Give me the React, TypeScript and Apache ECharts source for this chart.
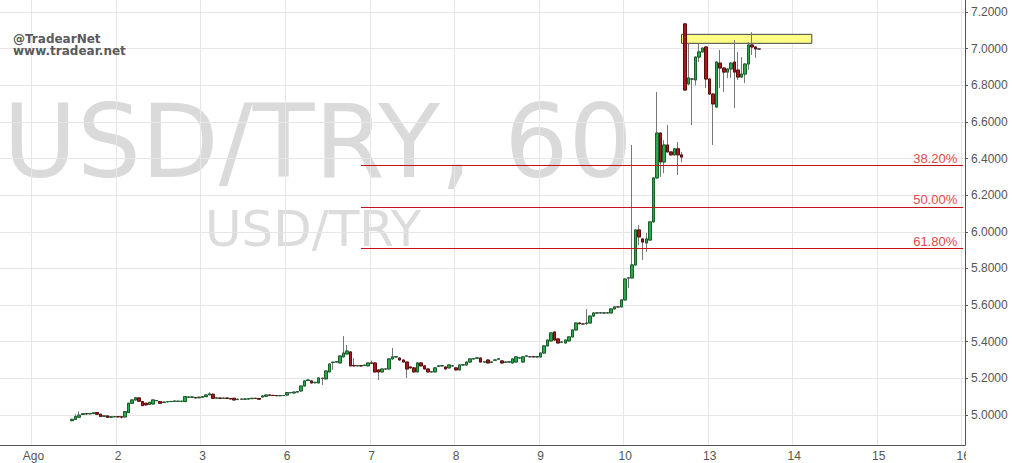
import React, { useEffect, useRef } from 'react';
import * as echarts from 'echarts';

// ---- axis / calendar data ----
const dayLabels = ['Ago', '2', '3', '6', '7', '8', '9', '10', '13', '14', '15', '16'];
const LEAD_SLOTS = 9; // hourly slots shown before Aug 1 00:00
const HOURS_PER_DAY = 24;
const FIRST_CANDLE_SLOT = 20; // Aug 1, 11:00

// ---- hourly candles [open, close, low, high] ----
const aug01 = [
  [4.969, 4.976, 4.965, 4.979], [4.976, 4.991, 4.974, 5.004], [4.988, 4.999, 4.985, 5.020],
  [5.003, 5.007, 5.000, 5.010], [5.007, 5.006, 5.002, 5.010], [5.006, 5.008, 5.004, 5.011],
  [5.008, 5.012, 5.004, 5.015], [5.013, 5.004, 5.000, 5.016], [5.004, 4.992, 4.989, 5.006],
  [4.993, 4.995, 4.990, 4.998], [4.995, 4.987, 4.984, 4.997], [4.988, 4.990, 4.986, 4.993],
  [4.990, 4.991, 4.987, 4.994],
];
const aug02 = [
  [4.991, 4.990, 4.987, 4.994], [4.990, 4.988, 4.981, 4.993], [4.989, 5.018, 4.987, 5.021],
  [5.013, 5.064, 5.011, 5.067], [5.064, 5.082, 5.060, 5.086], [5.082, 5.094, 5.078, 5.098],
  [5.093, 5.075, 5.072, 5.096], [5.073, 5.051, 5.049, 5.076], [5.064, 5.055, 5.052, 5.066],
  [5.058, 5.069, 5.056, 5.071], [5.060, 5.082, 5.058, 5.084], [5.078, 5.079, 5.075, 5.082],
  [5.073, 5.064, 5.062, 5.075], [5.068, 5.070, 5.066, 5.072], [5.072, 5.073, 5.070, 5.075],
  [5.073, 5.074, 5.071, 5.076], [5.075, 5.076, 5.073, 5.078], [5.074, 5.075, 5.072, 5.077],
  [5.074, 5.075, 5.072, 5.077], [5.073, 5.100, 5.071, 5.102], [5.097, 5.098, 5.094, 5.100],
  [5.097, 5.098, 5.095, 5.100], [5.095, 5.093, 5.091, 5.097], [5.094, 5.097, 5.092, 5.099],
];
const aug03 = [
  [5.097, 5.100, 5.095, 5.102], [5.100, 5.109, 5.098, 5.112], [5.110, 5.115, 5.108, 5.124],
  [5.113, 5.091, 5.089, 5.116], [5.092, 5.093, 5.090, 5.095], [5.092, 5.091, 5.089, 5.094],
  [5.091, 5.092, 5.089, 5.094], [5.092, 5.091, 5.089, 5.093], [5.090, 5.087, 5.085, 5.092],
  [5.091, 5.082, 5.080, 5.093], [5.084, 5.086, 5.082, 5.088], [5.086, 5.086, 5.084, 5.088],
  [5.086, 5.087, 5.084, 5.089], [5.087, 5.089, 5.085, 5.091], [5.089, 5.091, 5.087, 5.093],
  [5.091, 5.090, 5.088, 5.092], [5.090, 5.086, 5.084, 5.092], [5.098, 5.104, 5.096, 5.106],
  [5.102, 5.109, 5.100, 5.111], [5.109, 5.108, 5.106, 5.111], [5.107, 5.106, 5.104, 5.109],
  [5.106, 5.105, 5.103, 5.108], [5.105, 5.106, 5.103, 5.108], [5.106, 5.106, 5.104, 5.109],
];
const aug06 = [
  [5.109, 5.122, 5.107, 5.124], [5.122, 5.122, 5.119, 5.125], [5.120, 5.125, 5.118, 5.127],
  [5.125, 5.128, 5.122, 5.131], [5.131, 5.158, 5.129, 5.160], [5.158, 5.186, 5.156, 5.189],
  [5.188, 5.191, 5.185, 5.194], [5.186, 5.175, 5.172, 5.188], [5.176, 5.178, 5.173, 5.181],
  [5.175, 5.202, 5.173, 5.205], [5.200, 5.200, 5.164, 5.203], [5.197, 5.240, 5.195, 5.243],
  [5.235, 5.278, 5.233, 5.281], [5.286, 5.288, 5.246, 5.291], [5.289, 5.291, 5.286, 5.294],
  [5.284, 5.322, 5.282, 5.325], [5.317, 5.338, 5.315, 5.431], [5.333, 5.349, 5.330, 5.382],
  [5.344, 5.268, 5.265, 5.347], [5.270, 5.268, 5.264, 5.310], [5.268, 5.269, 5.265, 5.272],
  [5.269, 5.268, 5.265, 5.272], [5.270, 5.272, 5.267, 5.275], [5.268, 5.284, 5.266, 5.287],
];
const aug07 = [
  [5.284, 5.283, 5.280, 5.297], [5.284, 5.235, 5.232, 5.287], [5.246, 5.235, 5.191, 5.249],
  [5.235, 5.251, 5.232, 5.254], [5.251, 5.251, 5.248, 5.254], [5.251, 5.306, 5.249, 5.309],
  [5.306, 5.317, 5.303, 5.366], [5.317, 5.318, 5.313, 5.321], [5.311, 5.300, 5.297, 5.314],
  [5.300, 5.289, 5.286, 5.303], [5.289, 5.251, 5.202, 5.292], [5.262, 5.257, 5.254, 5.265],
  [5.257, 5.235, 5.232, 5.260], [5.235, 5.284, 5.232, 5.287], [5.284, 5.268, 5.265, 5.287],
  [5.268, 5.251, 5.248, 5.271], [5.251, 5.235, 5.232, 5.254], [5.235, 5.236, 5.232, 5.239],
  [5.235, 5.257, 5.232, 5.260], [5.266, 5.268, 5.263, 5.271], [5.268, 5.269, 5.265, 5.272],
  [5.262, 5.251, 5.248, 5.265], [5.257, 5.273, 5.254, 5.276], [5.268, 5.268, 5.265, 5.271],
];
const aug08 = [
  [5.257, 5.246, 5.243, 5.260], [5.246, 5.273, 5.243, 5.276], [5.273, 5.274, 5.270, 5.277],
  [5.273, 5.289, 5.270, 5.292], [5.289, 5.306, 5.286, 5.309], [5.306, 5.307, 5.303, 5.310],
  [5.310, 5.311, 5.307, 5.314], [5.311, 5.289, 5.286, 5.314], [5.289, 5.290, 5.286, 5.293],
  [5.300, 5.284, 5.281, 5.303], [5.288, 5.289, 5.285, 5.292], [5.299, 5.300, 5.296, 5.303],
  [5.305, 5.306, 5.302, 5.309], [5.295, 5.284, 5.281, 5.298], [5.288, 5.289, 5.285, 5.292],
  [5.289, 5.290, 5.286, 5.293], [5.284, 5.306, 5.281, 5.309], [5.289, 5.317, 5.286, 5.320],
  [5.311, 5.312, 5.308, 5.315], [5.289, 5.317, 5.286, 5.320], [5.321, 5.322, 5.318, 5.325],
  [5.318, 5.318, 5.315, 5.321], [5.318, 5.317, 5.315, 5.320], [5.317, 5.318, 5.314, 5.321],
];
const aug09 = [
  [5.317, 5.338, 5.314, 5.341], [5.338, 5.377, 5.335, 5.380], [5.377, 5.409, 5.374, 5.412],
  [5.404, 5.448, 5.401, 5.451], [5.453, 5.409, 5.406, 5.456], [5.415, 5.393, 5.390, 5.418],
  [5.397, 5.398, 5.394, 5.401], [5.393, 5.409, 5.390, 5.412], [5.404, 5.426, 5.401, 5.429],
  [5.426, 5.464, 5.423, 5.467], [5.464, 5.502, 5.461, 5.505], [5.502, 5.498, 5.495, 5.505],
  [5.497, 5.497, 5.494, 5.500], [5.500, 5.502, 5.490, 5.579], [5.502, 5.540, 5.499, 5.543],
  [5.540, 5.557, 5.537, 5.560], [5.557, 5.557, 5.554, 5.560], [5.557, 5.558, 5.554, 5.561],
  [5.557, 5.557, 5.554, 5.560], [5.557, 5.558, 5.554, 5.561], [5.557, 5.579, 5.554, 5.582],
  [5.579, 5.590, 5.576, 5.593], [5.590, 5.590, 5.587, 5.593], [5.590, 5.628, 5.587, 5.631],
];
const aug10 = [
  [5.628, 5.742, 5.625, 5.745], [5.748, 5.748, 5.693, 5.752], [5.748, 5.819, 5.745, 6.474],
  [5.819, 6.010, 5.815, 6.014], [6.010, 5.972, 5.928, 6.037], [5.961, 5.944, 5.846, 5.965],
  [5.939, 5.961, 5.890, 5.994], [5.955, 6.054, 5.950, 6.058], [6.054, 6.294, 6.050, 6.298],
  [6.294, 6.539, 6.290, 6.763], [6.539, 6.381, 6.300, 6.543], [6.381, 6.474, 6.320, 6.500],
  [6.474, 6.436, 6.432, 6.583], [6.436, 6.420, 6.416, 6.440], [6.420, 6.453, 6.416, 6.457],
  [6.453, 6.420, 6.310, 6.490], [6.420, 6.408, 6.380, 6.436], [7.135, 6.774, 6.770, 7.135],
  [6.807, 6.840, 6.800, 7.030], [6.834, 6.834, 6.583, 6.838], [6.829, 6.954, 6.800, 6.958],
  [6.954, 6.982, 6.927, 7.030], [6.982, 7.003, 6.978, 7.007], [7.009, 6.834, 6.785, 7.013],
];
const aug13 = [
  [6.834, 6.752, 6.748, 6.838], [6.752, 6.698, 6.474, 6.756], [6.681, 6.927, 6.677, 6.931],
  [6.921, 6.894, 6.785, 6.993], [6.894, 6.872, 6.763, 6.898], [6.872, 6.889, 6.839, 6.893],
  [6.889, 6.921, 6.839, 6.925], [6.927, 6.872, 6.676, 7.047], [6.883, 6.845, 6.829, 6.981],
  [6.845, 6.861, 6.841, 6.954], [6.861, 6.916, 6.812, 6.920], [6.916, 7.020, 6.883, 7.036],
  [7.020, 7.009, 6.965, 7.090], [7.009, 6.998, 6.950, 7.013], [6.998, 6.998, 6.994, 7.002],
];

// ---- Fibonacci retracement levels ----
const fibLabels = ['38.20%', '50.00%', '61.80%'];
const fibValues = [6.3619, 6.1327, 5.9088];
const fibStartSlot = 102;

// ---- resistance zone ----
const zoneBottom = 7.029;
const zoneTop = 7.078;
const zoneStartSlot = 193;
const zoneEndSlot = 230;

// ---- y axis ----
const yMin = 4.836;
const yMax = 7.2655;
const yStep = 0.2;

const TOTAL_SLOTS = LEAD_SLOTS + HOURS_PER_DAY * (dayLabels.length - 1) + 1;

function slotName(i: number): string {
  if (i < LEAD_SLOTS) return 'Jul31 ' + (24 - LEAD_SLOTS + i) + ':00';
  const d = Math.floor((i - LEAD_SLOTS) / HOURS_PER_DAY);
  const h = (i - LEAD_SLOTS) % HOURS_PER_DAY;
  return dayLabels[d] + ' ' + h + ':00';
}
const isDayStart = (i: number) => i >= LEAD_SLOTS && (i - LEAD_SLOTS) % HOURS_PER_DAY === 0;

export default function App() {
  const ref = useRef<HTMLDivElement>(null);
  useEffect(() => {
    if (!ref.current) return;
    const chart = echarts.init(ref.current, undefined, { renderer: 'svg' });
    const categories: string[] = [];
    for (let i = 0; i < TOTAL_SLOTS; i++) categories.push(slotName(i));
    const candles = [...aug01, ...aug02, ...aug03, ...aug06, ...aug07, ...aug08, ...aug09, ...aug10, ...aug13];
    const wickData: any[] = categories.map((_, i) => {
      const c = candles[i - FIRST_CANDLE_SLOT];
      return c ? c : '-';
    });
    const bodyData: any[] = categories.map((_, i) => {
      const c = candles[i - FIRST_CANDLE_SLOT];
      return c ? [c[0], c[1], Math.min(c[0], c[1]), Math.max(c[0], c[1])] : '-';
    });
    const fibSeries = fibValues.map((v, k) => ({
      type: 'line',
      name: fibLabels[k],
      data: [[categories[fibStartSlot], v], [categories[TOTAL_SLOTS - 1], v]],
      symbol: 'none',
      showSymbol: false,
      silent: true,
      z: 5,
      lineStyle: { color: '#c41219', width: 1, type: 'solid' },
      itemStyle: { color: '#c41219' },
      emphasis: { disabled: true },
      endLabel: {
        show: true,
        formatter: fibLabels[k],
        color: '#e3484c',
        fontSize: 13,
        fontFamily: '"Liberation Sans", Arial, sans-serif',
        align: 'right',
        verticalAlign: 'bottom',
        distance: 0,
        offset: [-6, -1],
      },
    }));
    const option: any = {
      animation: false,
      backgroundColor: '#ffffff',
      grid: { left: 0, right: 47, top: 0, bottom: 18, containLabel: false, outerBoundsMode: 'none' },
      xAxis: {
        type: 'category',
        data: categories,
        boundaryGap: true,
        axisLine: { lineStyle: { color: '#555555', width: 1 } },
        axisTick: { interval: (i: number) => isDayStart(i), length: 4, lineStyle: { color: '#555555' } },
        axisLabel: {
          interval: (i: number) => isDayStart(i),
          formatter: (_v: string, i: number) => dayLabels[Math.floor((i - LEAD_SLOTS) / HOURS_PER_DAY)],
          color: '#555555',
          fontSize: 12,
          fontFamily: '"Liberation Sans", Arial, sans-serif',
          margin: 5,
        },
        splitLine: { show: true, interval: (i: number) => isDayStart(i), lineStyle: { color: '#e6e6e6', width: 1 } },
      },
      yAxis: {
        type: 'value',
        position: 'right',
        min: yMin,
        max: yMax,
        splitNumber: 12,
        minInterval: yStep,
        maxInterval: yStep,
        axisLine: { show: true, lineStyle: { color: '#555555', width: 1 } },
        axisTick: { show: true, length: 3, lineStyle: { color: '#555555' } },
        axisLabel: {
          color: '#555555',
          fontSize: 12,
          fontFamily: '"Liberation Sans", Arial, sans-serif',
          margin: 6,
          showMinLabel: false,
          showMaxLabel: false,
          formatter: (v: number) => (Math.abs(v / yStep - Math.round(v / yStep)) < 1e-6 ? v.toFixed(4) : ''),
        },
        splitLine: { show: true, showMinLine: false, showMaxLine: false, lineStyle: { color: '#e6e6e6', width: 1 } },
      },
      series: [
        {
          type: 'candlestick',
          name: 'wick',
          data: wickData,
          barWidth: 3,
          silent: true,
          itemStyle: {
            color: 'rgba(0,0,0,0)', color0: 'rgba(0,0,0,0)',
            borderColor: '#777777', borderColor0: '#777777', borderColorDoji: '#777777', borderWidth: 1,
          },
          markArea: {
            silent: true,
            itemStyle: { color: '#ffff88', borderColor: '#444444', borderWidth: 1 },
            data: [[
              { coord: [categories[zoneStartSlot], zoneTop] },
              { coord: [categories[zoneEndSlot], zoneBottom] },
            ]],
          },
        },
        {
          type: 'candlestick',
          name: 'body',
          data: bodyData,
          barWidth: 3,
          silent: true,
          itemStyle: {
            color: '#2aa84a', color0: '#a8171c',
            borderColor: '#17602a', borderColor0: '#5e0d0d', borderColorDoji: '#444444', borderWidth: 1,
          },
        },
        ...fibSeries,
      ],
      graphic: [
        {
          type: 'text', z: -5, silent: true,
          style: { text: 'USD/TRY, 60', x: 3, y: 142, fill: '#dadada', font: '101px "DejaVu Sans"', align: 'left', verticalAlign: 'middle' },
        },
        {
          type: 'text', z: -5, silent: true,
          style: { text: 'USD/TRY', x: 205, y: 229, fill: '#dcdcdc', font: '50px "DejaVu Sans"', align: 'left', verticalAlign: 'middle' },
        },
        {
          type: 'text', z: 10, silent: true,
          style: { text: '@TradearNet', x: 13, y: 39, fill: '#5a5a5a', font: 'bold 12px "DejaVu Sans"', lineHeight: 11, align: 'left', verticalAlign: 'middle' },
        },
        {
          type: 'text', z: 10, silent: true,
          style: { text: 'www.tradear.net', x: 13, y: 51, fill: '#5a5a5a', font: 'bold 12px "DejaVu Sans"', lineHeight: 11, align: 'left', verticalAlign: 'middle' },
        },
        {
          type: 'rect', z: 100, silent: true,
          shape: { x: 966, y: 447, width: 46, height: 16 },
          style: { fill: '#ffffff' },
        },
      ],
    };
    chart.setOption(option);
    return () => chart.dispose();
  }, []);
  return <div ref={ref} style={{ position: 'fixed', left: 0, top: 0, width: 1012, height: 463, background: '#fff' }} />;
}
